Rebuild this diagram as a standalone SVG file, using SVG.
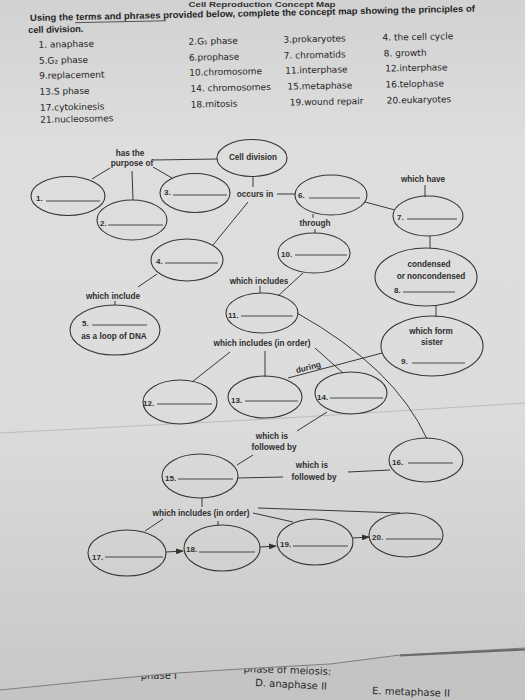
<svg xmlns="http://www.w3.org/2000/svg" width="525" height="700" viewBox="0 0 525 700">
<defs>
<linearGradient id="paper" x1="0" y1="0" x2="0" y2="1">
<stop offset="0" stop-color="#d2d2d2"/>
<stop offset="0.22" stop-color="#dedede"/>
<stop offset="0.6" stop-color="#dcdcdc"/>
<stop offset="1" stop-color="#c8c8c8"/>
</linearGradient>
<marker id="arr" markerUnits="userSpaceOnUse" markerWidth="8" markerHeight="6" refX="7" refY="3" orient="auto">
<path d="M0,0 L8,3 L0,6 Z" fill="#333"/>
</marker>
<style>
.e{fill:none;stroke:#363636;stroke-width:1.1}
.c{fill:none;stroke:#383838;stroke-width:1}
.b{fill:none;stroke:#383838;stroke-width:0.9}
.l{font-family:"Liberation Sans",Arial,sans-serif;font-weight:bold;font-size:8.2px;fill:#2e2e2e}
.m{text-anchor:middle}
.n{font-family:"Liberation Sans",Arial,sans-serif;font-weight:bold;font-size:8px;fill:#2e2e2e}
.h{font-family:"DejaVu Sans",Verdana,sans-serif;font-size:9px;fill:#242424}
.p{font-family:"DejaVu Sans",Verdana,sans-serif;font-size:10px;fill:#2a2a2a}
</style>
</defs>

<!-- lower page -->
<rect x="0" y="0" width="525" height="700" fill="#c4c4c4"/>
<g id="lower-page-text">
<text class="p" x="177" y="679" text-anchor="end">phase I</text>
<text class="p" x="331" y="675" text-anchor="end" transform="rotate(2 331 675)">phase of meiosis:</text>
<text class="p" x="255" y="686" transform="rotate(3 255 686)">D. anaphase II</text>
<text class="p" x="372" y="694" transform="rotate(2 372 694)">E. metaphase II</text>
</g>
<!-- upper page -->
<polygon points="0,0 525,0 525,648 400,655 330,664 240,669 177,673 100,680 0,690" fill="url(#paper)"/>
<polyline points="0,690 100,680 177,673 240,669 330,664 400,655 525,648" fill="none" stroke="#7e7e7e" stroke-width="1"/>
<line x1="400" y1="655.5" x2="525" y2="649.5" stroke="#6a6a6a" stroke-width="2.2"/>
<polyline points="0,433 270,419 525,403" fill="none" stroke="#b4b4b4" stroke-width="0.8"/>

<!-- header -->
<text x="262" y="7.3" text-anchor="middle" font-family="Liberation Sans, Arial, sans-serif" font-weight="bold" font-size="8" fill="#333" textLength="147" lengthAdjust="spacingAndGlyphs">Cell Reproduction Concept Map</text>
<g id="header" transform="rotate(-1.2 30 20)">
<text x="30" y="21" font-family="Liberation Sans, Arial, sans-serif" font-weight="bold" font-size="9.2" fill="#262626" textLength="445" lengthAdjust="spacingAndGlyphs">Using the terms and phrases provided below, complete the concept map showing the principles of</text>
<line x1="75" y1="23.6" x2="166" y2="23.6" stroke="#333" stroke-width="0.8"/>
<text x="28" y="33" font-family="Liberation Sans, Arial, sans-serif" font-weight="bold" font-size="9.2" fill="#262626">cell division.</text>
<text class="h" x="38" y="48">1. anaphase</text>
<text class="h" x="188" y="48">2.G₁ phase</text>
<text class="h" x="283" y="48">3.prokaryotes</text>
<text class="h" x="382" y="48">4. the cell cycle</text>
<text class="h" x="38" y="64">5.G₂ phase</text>
<text class="h" x="188" y="64">6.prophase</text>
<text class="h" x="283" y="64">7. chromatids</text>
<text class="h" x="383" y="64">8. growth</text>
<text class="h" x="38" y="79">9.replacement</text>
<text class="h" x="188" y="79">10.chromosome</text>
<text class="h" x="284" y="79">11.interphase</text>
<text class="h" x="384" y="79">12.interphase</text>
<text class="h" x="38" y="95">13.S phase</text>
<text class="h" x="189" y="95">14. chromosomes</text>
<text class="h" x="286" y="95">15.metaphase</text>
<text class="h" x="384" y="95">16.telophase</text>
<text class="h" x="38" y="111">17.cytokinesis</text>
<text class="h" x="189" y="111">18.mitosis</text>
<text class="h" x="288" y="111">19.wound repair</text>
<text class="h" x="385" y="111">20.eukaryotes</text>
<text class="h" x="38" y="123">21.nucleosomes</text>
</g>

<!-- connectors -->
<g id="connectors">
<line class="c" x1="153" y1="160" x2="217" y2="159"/>
<line class="c" x1="110" y1="168" x2="92" y2="179"/>
<line class="c" x1="132" y1="171" x2="133" y2="200"/>
<line class="c" x1="153" y1="167" x2="172" y2="178"/>
<line class="c" x1="253" y1="177" x2="253" y2="187"/>
<line class="c" x1="277" y1="194" x2="295" y2="194"/>
<line class="c" x1="248" y1="202" x2="213" y2="245"/>
<line class="c" x1="365" y1="202" x2="395" y2="210"/>
<line class="c" x1="425" y1="185" x2="425" y2="197"/>
<line class="c" x1="430" y1="236" x2="430" y2="248"/>
<line class="c" x1="313" y1="214" x2="313" y2="218"/>
<line class="c" x1="315" y1="229" x2="315" y2="233"/>
<line class="c" x1="436" y1="306" x2="436" y2="317"/>
<line class="c" x1="303" y1="273" x2="278" y2="296"/>
<line class="c" x1="260" y1="286" x2="260" y2="293"/>
<line class="c" x1="157" y1="274" x2="138" y2="287"/>
<line class="c" x1="115" y1="301" x2="115" y2="305"/>
<path class="c" d="M297,313 Q395,368 427,439"/>
<line class="c" x1="230" y1="352" x2="192" y2="382"/>
<line class="c" x1="265" y1="351" x2="265" y2="377"/>
<line class="c" x1="315" y1="348" x2="343" y2="373"/>
<line class="c" x1="288" y1="378" x2="382" y2="353"/>
<line class="c" x1="327" y1="412" x2="297" y2="431"/>
<line class="c" x1="253" y1="455" x2="237" y2="465"/>
<line class="c" x1="238" y1="478" x2="283" y2="477"/>
<line class="c" x1="348" y1="472" x2="390" y2="470"/>
<line class="c" x1="202" y1="498" x2="202" y2="507"/>
<line class="c" x1="163" y1="519" x2="145" y2="531"/>
<line class="c" x1="218" y1="521" x2="218" y2="526"/>
<line class="c" x1="253" y1="513" x2="293" y2="522"/>
<line class="c" x1="258" y1="508" x2="400" y2="513"/>
<line class="c" x1="166" y1="552" x2="183" y2="551" marker-end="url(#arr)"/>
<line class="c" x1="260" y1="547" x2="276" y2="546" marker-end="url(#arr)"/>
<line class="c" x1="353" y1="538" x2="369" y2="537" marker-end="url(#arr)"/>
</g>

<!-- connector labels -->
<g id="labels">
<text class="l m" x="130" y="156">has the</text>
<text class="l m" x="132" y="166">purpose of</text>
<text class="l m" x="255" y="197">occurs in</text>
<text class="l m" x="423" y="182">which have</text>
<text class="l m" x="315" y="226">through</text>
<text class="l m" x="259" y="284">which includes</text>
<text class="l m" x="113" y="299">which include</text>
<text class="l m" x="262" y="346">which includes (in order)</text>
<text class="l m" x="309" y="370" transform="rotate(-15 309 370)">during</text>
<text class="l m" x="272" y="439">which is</text>
<text class="l m" x="274" y="450">followed by</text>
<text class="l m" x="312" y="468">which is</text>
<text class="l m" x="314" y="480">followed by</text>
<text class="l m" x="201" y="516">which includes (in order)</text>
</g>

<!-- nodes -->
<g id="n-cell-division"><ellipse class="e" cx="252" cy="158" rx="35" ry="18.5"/><text class="l m" x="253" y="160" font-size="7.7">Cell division</text></g>
<g id="n1"><ellipse class="e" cx="68" cy="196" rx="37" ry="19.5"/><text class="n" x="36" y="201">1.</text><line class="b" x1="46" y1="201" x2="100" y2="201"/></g>
<g id="n2"><ellipse class="e" cx="132" cy="220" rx="35" ry="20"/><text class="n" x="100" y="226">2.</text><line class="b" x1="108" y1="225" x2="163" y2="225"/></g>
<g id="n3"><ellipse class="e" cx="195" cy="193" rx="35" ry="19.5"/><text class="n" x="164" y="195">3.</text><line class="b" x1="173" y1="195" x2="227" y2="195"/></g>
<g id="n4"><ellipse class="e" cx="187" cy="260" rx="36" ry="21"/><text class="n" x="156" y="264">4.</text><line class="b" x1="165" y1="263" x2="218" y2="263"/></g>
<g id="n6"><ellipse class="e" cx="331" cy="195" rx="36" ry="20"/><text class="n" x="298" y="198">6.</text><line class="b" x1="309" y1="198" x2="360" y2="198"/></g>
<g id="n7"><ellipse class="e" cx="428" cy="216" rx="35" ry="20"/><text class="n" x="397" y="220">7.</text><line class="b" x1="407" y1="219" x2="457" y2="219"/></g>
<g id="n10"><ellipse class="e" cx="314" cy="253" rx="36" ry="20"/><text class="n" x="281" y="257">10.</text><line class="b" x1="295" y1="255" x2="347" y2="255"/></g>
<g id="n8"><ellipse class="e" cx="426" cy="277" rx="51" ry="29"/><text class="l m" x="429" y="267">condensed</text><text class="l m" x="431" y="279">or noncondensed</text><text class="n" x="394" y="293">8.</text><line class="b" x1="403" y1="292" x2="455" y2="292"/></g>
<g id="n9"><ellipse class="e" cx="432" cy="346" rx="51" ry="30"/><text class="l m" x="431" y="334">which form</text><text class="l m" x="432" y="345">sister</text><text class="n" x="401" y="364">9.</text><line class="b" x1="412" y1="363" x2="465" y2="363"/></g>
<g id="n11"><ellipse class="e" cx="262" cy="313" rx="36" ry="20"/><text class="n" x="228" y="318">11.</text><line class="b" x1="241" y1="316" x2="293" y2="316"/></g>
<g id="n5"><ellipse class="e" cx="115" cy="330" rx="45" ry="25"/><text class="n" x="82" y="326">5.</text><line class="b" x1="92" y1="325" x2="147" y2="325"/><text class="l m" x="114" y="339">as a loop of DNA</text></g>
<g id="n12"><ellipse class="e" cx="180" cy="402" rx="37" ry="22"/><text class="n" x="143" y="406">12.</text><line class="b" x1="157" y1="404" x2="212" y2="404"/></g>
<g id="n13"><ellipse class="e" cx="265" cy="397" rx="37" ry="21"/><text class="n" x="231" y="403">13.</text><line class="b" x1="245" y1="401" x2="298" y2="401"/></g>
<g id="n14"><ellipse class="e" cx="351" cy="393" rx="36" ry="21"/><text class="n" x="317" y="400">14.</text><line class="b" x1="330" y1="398" x2="383" y2="398"/></g>
<g id="n15"><ellipse class="e" cx="200" cy="476" rx="38" ry="22"/><text class="n" x="165" y="481">15.</text><line class="b" x1="178" y1="479" x2="233" y2="479"/></g>
<g id="n16"><ellipse class="e" cx="426" cy="460" rx="37" ry="22"/><text class="n" x="392" y="465">16.</text><line class="b" x1="408" y1="463" x2="453" y2="463"/></g>
<g id="n17"><ellipse class="e" cx="127" cy="553" rx="39" ry="23"/><text class="n" x="92" y="560">17.</text><line class="b" x1="105" y1="557" x2="163" y2="557"/></g>
<g id="n18"><ellipse class="e" cx="222" cy="548" rx="38" ry="23"/><text class="n" x="186" y="552">18.</text><line class="b" x1="199" y1="552" x2="255" y2="552"/></g>
<g id="n19"><ellipse class="e" cx="315" cy="542" rx="38" ry="23"/><text class="n" x="280" y="547">19.</text><line class="b" x1="293" y1="546" x2="348" y2="546"/></g>
<g id="n20"><ellipse class="e" cx="406" cy="535" rx="37" ry="22"/><text class="n" x="372" y="540">20.</text><line class="b" x1="386" y1="539" x2="441" y2="539"/></g>
</svg>
